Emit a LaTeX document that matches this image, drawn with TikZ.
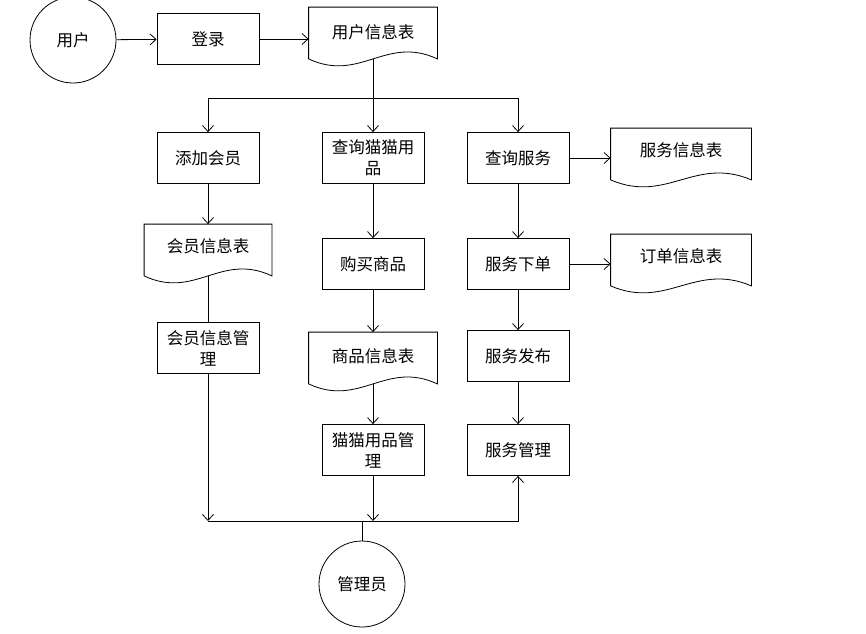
\documentclass[tikz,border=0pt]{standalone}
\usepackage{fontspec}
\setmainfont{Noto Sans CJK SC}
\usetikzlibrary{arrows.meta,calc}
\begin{document}
\begin{tikzpicture}[x=1pt,y=-1pt,line width=0.8pt,
  every node/.style={font=\fontsize{16.5pt}{21pt}\selectfont, align=center, inner sep=0pt},
  box/.style={draw, minimum width=102pt, minimum height=51pt},
  doc/.style={minimum width=#1, minimum height=51pt},
  circ/.style={draw, circle, minimum size=86pt},
  arr/.style={-{Straight Barb[length=6pt,width=11pt]}}]
\useasboundingbox (0,0) rectangle (866,633);
\newcommand\docshape[1]{%
  \path (#1.north west) coordinate (dA) (#1.south east) coordinate (dB);
  \draw let \p1=(dA), \p2=(dB), \n1={\x2-\x1} in
    (\x1,\y2) -- (\x1,\y1) -- (\x2,\y1) -- (\x2,\y2)
    .. controls ({\x2-0.4*\n1},{\y2+24pt}) and ({\x1+0.4*\n1},{\y2-24pt}) .. (\x1,\y2);}
\node[circ] (yh) at (73,40) {用户};
\node[box] (dl) at (208,39) {登录};
\node[doc=128pt,yshift=3pt] (yhb) at (373,36) {}; \node (yhbt) at (373,32) {用户信息表}; \docshape{yhb}
\node[box] (tj) at (208,158) {添加会员};
\node[box] (cx) at (373,158) {查询猫猫用\\品};
\node[box] (cxfw) at (518,158) {查询服务};
\node[doc=140pt] (fwb) at (681,154) {}; \node (fwbt) at (681,150) {服务信息表}; \docshape{fwb}
\node[doc=127pt] (hyb) at (208,250) {}; \node (hybt) at (208,246) {会员信息表}; \docshape{hyb}
\node[box] (gm) at (373,264) {购买商品};
\node[box] (xd) at (518,264) {服务下单};
\node[doc=140pt] (ddb) at (681,260) {}; \node (ddbt) at (681,256) {订单信息表}; \docshape{ddb}
\node[box] (hygl) at (208,348) {会员信息管\\理};
\node[doc=128pt] (spb) at (373,358) {}; \node (spbt) at (373,356) {商品信息表}; \docshape{spb}
\node[box] (fb) at (518,356) {服务发布};
\node[box] (mmgl) at (373,450) {猫猫用品管\\理};
\node[box] (fwgl) at (518,450) {服务管理};
\node[circ] (gly) at (362,584) {管理员};
\coordinate (t1) at (373,98);
\coordinate (j1) at (208,521);
\coordinate (j3) at (518,521);
\draw[arr] (yh) -- (dl);
\draw[arr] (dl) -- (yhb.west |- dl);
\draw (yhb.south) -- (t1);
\draw[arr] (t1) -- (cx.north);
\draw[arr] (t1) -| (tj.north);
\draw[arr] (t1) -| (cxfw.north);
\draw[arr] (cxfw) -- (fwb.west |- cxfw);
\draw[arr] (xd) -- (ddb.west |- xd);
\draw[arr] (tj) -- (hyb.north);
\draw (hyb.south) -- (hygl.north);
\draw[arr] (cx) -- (gm);
\draw[arr] (gm) -- (spb.north);
\draw[arr] (spb.south) -- (mmgl.north);
\draw[arr] (cxfw) -- (xd);
\draw[arr] (xd) -- (fb);
\draw[arr] (fb) -- (fwgl);
\draw[arr] (hygl.south) -- (j1);
\draw[arr] (mmgl.south) -- (mmgl.south |- j1);
\draw[arr] (j1) -- (j3) -- (fwgl.south);
\draw (gly.north) -- (gly.north |- j1);
\end{tikzpicture}
\end{document}
